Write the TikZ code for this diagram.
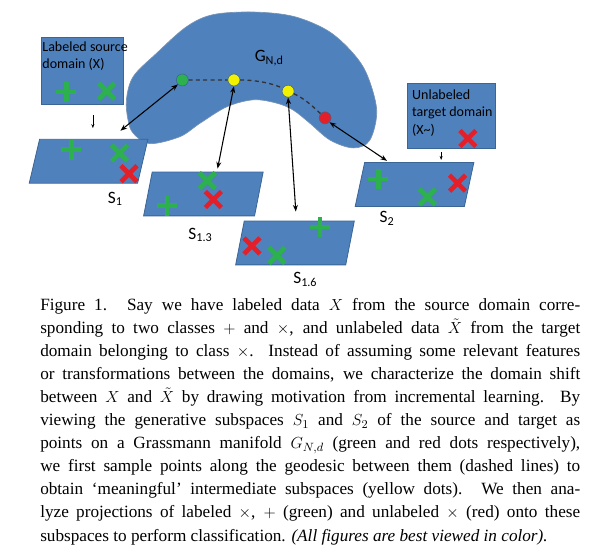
\documentclass[tikz,border=0pt]{standalone}
\usepackage{fontspec}
\setmainfont{Liberation Serif}
\newfontfamily\calfnt{Carlito}
\usetikzlibrary{arrows.meta}
\definecolor{bl}{HTML}{4F81BD}
\definecolor{bld}{HTML}{3B6595}
\definecolor{gr}{HTML}{2DB04E}
\definecolor{rd}{HTML}{E3202A}
\definecolor{ye}{HTML}{F2F200}
\begin{document}
\begin{tikzpicture}[x=0.75pt,y=-0.75pt,
 plane/.style={fill=bl,draw=bld,line width=0.6pt},
 lbl/.style={font=\calfnt\fontsize{10.5}{13}\selectfont,align=left,text=black},
 sub/.style={font=\calfnt\fontsize{13}{15}\selectfont},
 dar/.style={{Stealth[length=5pt]}-{Stealth[length=5pt]},line width=0.8pt},
 sar/.style={-{Stealth[length=3pt]},line width=0.5pt},
 dot/.style={circle,minimum width=9pt,minimum height=7pt,inner sep=0pt,draw=bld},
 pls/.pic={\draw[gr,line width=3.5pt] (-10,0)--(10,0) (0,-10)--(0,10);},
 crs/.pic={\draw[#1,line width=3.5pt] (-8,-8)--(8,8) (-8,8)--(8,-8);}]
\useasboundingbox (0,0) rectangle (600,553);
\begin{scope}[scale=0.86]
% blob
\fill[bl,draw=bld!70,line width=0.5pt] plot[smooth cycle,tension=0.55] coordinates{(155,155)(174,167)(209,159)(233,143)(264,124)(295,116)(322,120)(341,128)(360,143)(384,163)(411,172)(430,163)(438,128)(426,85)(407,58)(380,35)(341,19)(295,14)(248,17)(217,31)(182,62)(155,89)(147,116)(149,140)};
\node[sub] (G) at (313,68) {G\textsubscript{N,d}};
% source box
\draw[plane] (48,43) rectangle (143,121);
\node[lbl,anchor=north west,inner sep=0pt] (src) at (49,48) {Labeled source\\domain (X)};
\pic at (77,107) {pls}; \pic at (124,106) {crs=gr};
% target box
\draw[plane] (474,97) rectangle (576,172);
\node[lbl,anchor=north west,inner sep=0pt] (tgt) at (479,104) {Unlabeled\\target domain\\(X\textasciitilde)};
\pic at (544,161) {crs=rd};
% planes
\draw[plane] (46,162)--(172,162)--(160,213)--(34,213)--cycle;
\draw[plane] (177,200)--(306,200)--(296,251)--(167,251)--cycle;
\draw[plane] (284,257)--(412,257)--(402,308)--(274,308)--cycle;
\draw[plane] (424,189)--(551,189)--(540,240)--(413,240)--cycle;
\pic at (83,174) {pls}; \pic at (139,178) {crs=gr}; \pic at (150,202) {crs=rd};
\pic at (241,210) {crs=gr}; \pic at (248,232) {crs=rd}; \pic at (194,239) {pls};
\pic at (372,264) {pls}; \pic at (293,286) {crs=rd}; \pic at (322,297) {crs=gr};
\pic at (440,208) {pls}; \pic at (497,229) {crs=gr}; \pic at (532,213) {crs=rd};
\node[sub] (s1) at (134,231) {S\textsubscript{1}};
\node[sub] (s13) at (233,273) {S\textsubscript{1.3}};
\node[sub] (s16) at (355,325) {S\textsubscript{1.6}};
\node[sub] (s2) at (450,254) {S\textsubscript{2}};
% dots
\node[dot,fill=gr] (d1) at (212,93) {};
\node[dot,fill=ye] (d2) at (272,93) {};
\node[dot,fill=ye] (d3) at (335,106) {};
\node[dot,fill=rd] (d4) at (378,137) {};
\draw[line width=1pt,black!80,dash pattern=on 3pt off 2.5pt] (d1)--(d2) (d2) .. controls (300,93) and (320,98) .. (d3) (d3) .. controls (355,115) and (365,125) .. (d4);
% connectors
\coordinate (p1) at (140,152); \coordinate (p13) at (253,196);
\coordinate (p16) at (344,246); \coordinate (p2) at (450,187);
\draw[dar] (p1)--(d1.south west);
\draw[dar] (p13)--(d2.south);
\draw[dar] (p16)--(d3.south);
\draw[dar] (p2)--(d4.south east);
\coordinate (a1) at (108,134); \coordinate (a2) at (108,149);
\coordinate (b1) at (513,177); \coordinate (b2) at (513,186);
\draw[sar] (a1)--(a2); \draw[sar] (b1)--(b2);
\end{scope}
% caption
\node[anchor=north west,inner sep=0pt,text width=405pt,align=justify,font=\fontsize{12.9}{17.3}\selectfont] (cap) at (40,298) {Figure 1. Say we have labeled data $X$ from the source domain corre-\linebreak
sponding to two classes $+$ and $\times$, and unlabeled data $\tilde X$ from the target\linebreak
domain belonging to class $\times$. Instead of assuming some relevant features\linebreak
or transformations between the domains, we characterize the domain shift\linebreak
between $X$ and $\tilde X$ by drawing motivation from incremental learning. By\linebreak
viewing the generative subspaces $S_1$ and $S_2$ of the source and target as\linebreak
points on a Grassmann manifold $G_{N,d}$ (green and red dots respectively),\linebreak
we first sample points along the geodesic between them (dashed lines) to\linebreak
obtain ‘meaningful’ intermediate subspaces (yellow dots). We then ana-\linebreak
lyze projections of labeled $\times$, $+$ (green) and unlabeled $\times$ (red) onto these\linebreak
subspaces to perform classification. \textit{(All figures are best viewed in color).}\hfill\null};
\end{tikzpicture}
\end{document}
